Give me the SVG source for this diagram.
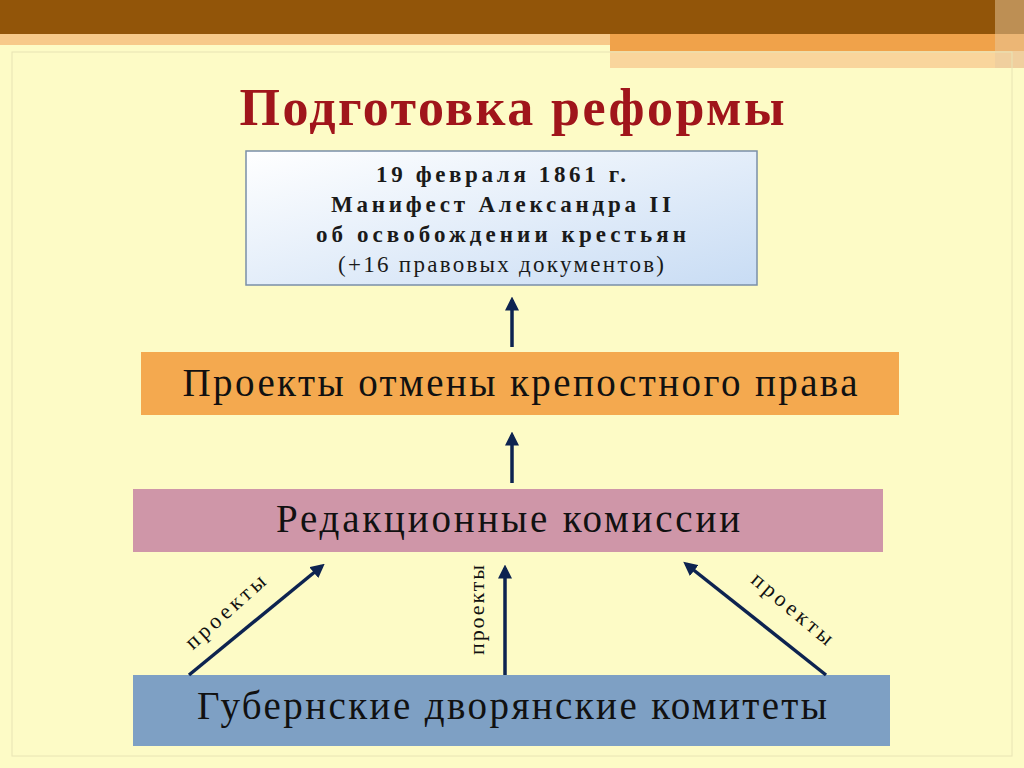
<svg xmlns="http://www.w3.org/2000/svg" width="1024" height="768" viewBox="0 0 1024 768">
<style>
.t{font-family:"Liberation Serif",serif;text-anchor:middle}
.b{font-weight:bold;font-size:23px;fill:#1a1a1a}
.big{font-size:39px;fill:#111}
.s{font-size:22px;fill:#111}
.a{stroke:#0d2350;stroke-width:3.5;fill:none;marker-end:url(#ah)}
</style>
<defs>
<marker id="ah" markerWidth="4" markerHeight="4" refX="3" refY="2" orient="auto"><path d="M0,0 L4,2 L0,4 Z" fill="#0d2350"/></marker>
<linearGradient id="g" x1="0" y1="0" x2="1" y2="1"><stop offset="0" stop-color="#ffffff"/><stop offset="1" stop-color="#c8dcf4"/></linearGradient>
</defs>
<rect width="1024" height="768" fill="#fdfbc6"/>
<rect width="1024" height="34" fill="#925509"/>
<rect x="0" y="34" width="610" height="11" fill="#f7c98a"/>
<rect x="610" y="34" width="414" height="17" fill="#f0a24a"/>
<rect x="610" y="51" width="414" height="17" fill="#f9d59c"/>
<rect x="995" y="0" width="29" height="68" fill="#e8c9a0" opacity="0.5"/>
<rect x="12" y="52" width="1000" height="704" fill="none" stroke="#e8e4b4" stroke-width="1"/>
<text class="t" x="512" y="125" textLength="545" style="font-size:52px;font-weight:bold;fill:#a0151b">Подготовка реформы</text>
<g id="manifest">
<rect x="246" y="151" width="511" height="134" fill="url(#g)" stroke="#7a8fa8" stroke-width="1.5"/>
<text class="t b" x="501" y="182" textLength="250">19 февраля 1861 г.</text>
<text class="t b" x="501" y="212" textLength="340">Манифест Александра II</text>
<text class="t b" x="501" y="242" textLength="370">об освобождении крестьян</text>
<text class="t" x="501" y="272" textLength="326" style="font-size:23px;fill:#1a1a1a">(+16 правовых документов)</text>
</g>
<g id="projects">
<rect x="141" y="352" width="758" height="63" fill="#f4a94f"/>
<text class="t big" x="520" y="396" textLength="675">Проекты отмены крепостного права</text>
</g>
<g id="commissions">
<rect x="133" y="489" width="750" height="63" fill="#cf96a8"/>
<text class="t big" x="508" y="532" textLength="464">Редакционные комиссии</text>
</g>
<g id="committees">
<rect x="133" y="675" width="757" height="71" fill="#7ea0c4"/>
<text class="t big" x="512" y="719" textLength="630">Губернские дворянские комитеты</text>
</g>
<g id="connectors">
<line class="a" x1="189" y1="675" x2="322" y2="566"/>
<line class="a" x1="505" y1="675" x2="505" y2="568"/>
<line class="a" x1="826" y1="675" x2="686" y2="564"/>
<line class="a" x1="512" y1="347" x2="512" y2="300"/>
<line class="a" x1="512" y1="483" x2="512" y2="435"/>
<text class="t s" transform="translate(230,617) rotate(-42)" textLength="100">проекты</text>
<text class="t s" transform="translate(484,610) rotate(-90)" textLength="90">проекты</text>
<text class="t s" transform="translate(788,614) rotate(40)" textLength="100">проекты</text>
</g>
</svg>
